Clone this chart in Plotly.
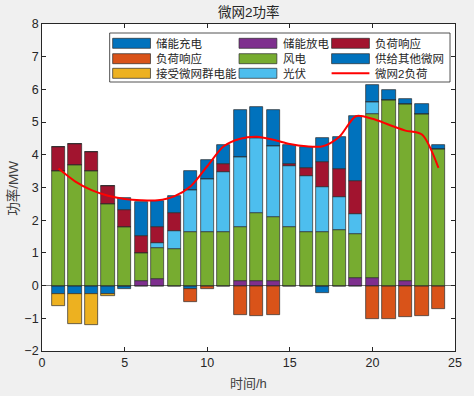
import plotly.graph_objects as go

hours = list(range(1, 25))

# series values (MW), in MATLAB series order
charge = [-0.25, -0.25, -0.25, -0.25, -0.11, 0, 0, 0, -0.11, 0, 0, 0,
          0, 0, 0, 0, -0.24, 0, 0, 0, 0, 0, 0, 0]            # 储能充电
dr_neg = [0, 0, 0, 0, 0, 0, 0, 0, -0.39, -0.10, 0, -0.90,
          -0.92, -0.90, 0, 0, 0, 0, 0, -1.02, -1.01, -0.96, -0.93, -0.71]  # 负荷响应 (orange)
recv = [-0.38, -0.91, -0.97, -0.08, 0, 0, 0, 0, 0, 0, 0, 0,
        0, 0, 0, 0, 0, 0, 0, 0, 0, 0, 0, 0]                  # 接受微网群电能
discharge = [0, 0, 0, 0, 0, 0.13, 0.20, 0, 0, 0, 0, 0.13,
             0.13, 0.13, 0, 0, 0, 0, 0.23, 0.23, 0, 0.14, 0, 0]  # 储能放电
wind = [3.50, 3.68, 3.50, 2.51, 1.78, 0.87, 0.96, 1.12, 1.63, 1.63, 1.63, 1.66,
        2.09, 1.96, 1.79, 1.63, 1.63, 1.69, 1.36, 5.03, 5.67, 5.41, 5.26, 4.17]  # 风电
pv = [0, 0, 0, 0, 0, 0, 0.13, 0.54, 1.28, 1.63, 1.84, 2.14,
      2.30, 2.17, 1.88, 1.72, 1.38, 1.01, 0.60, 0.35, 0, 0, 0, 0]  # 光伏
dr_pos = [0.74, 0.65, 0.60, 0.55, 0.52, 0.53, 0.50, 0.56, 0, 0, 0.26, 0,
          0, 0, 0.06, 0.25, 0.76, 0.88, 1.02, 0, 0, 0, 0, 0]  # 负荷响应 (dark red)
supply = [0, 0, 0, 0, 0.38, 1.04, 0.79, 0.53, 0.60, 0.58, 0.58, 1.45,
          0.93, 1.12, 0.58, 0.63, 0.73, 0.97, 1.99, 0.54, 0.30, 0.15, 0.28, 0.12]  # 供给其他微网
load = [3.58, 3.19, 2.92, 2.75, 2.65, 2.61, 2.61, 2.73, 3.04, 3.65, 4.26, 4.49,
        4.55, 4.46, 4.33, 4.26, 4.26, 4.55, 5.18, 5.10, 4.92, 4.74, 4.62, 3.60]  # 微网2负荷

names = ["储能充电", "负荷响应", "接受微网群电能", "储能放电", "风电", "光伏", "负荷响应", "供给其他微网"]
colors = ["#0072BD", "#D95319", "#EDB120", "#7E2F8E", "#77AC30", "#4DBEEE", "#A2142F", "#0072BD"]
series = [charge, dr_neg, recv, discharge, wind, pv, dr_pos, supply]
line_name = "微网2负荷"
line_color = "#FF0000"

x_ticks = [0, 5, 10, 15, 20, 25]
y_ticks = [-2, -1, 0, 1, 2, 3, 4, 5, 6, 7, 8]

W, H = 474, 396
L, R, T, B = 42, 17, 24, 45
PW, PH = W - L - R, H - T - B

def px(x):
    return (x - L) / PW

def py(y):
    return (H - B - y) / PH

CJK = "Liberation Sans, Noto Sans CJK SC, sans-serif"
TXT = "#262626"

fig = go.Figure()
for nm, col, vals in zip(names, colors, series):
    fig.add_trace(go.Bar(x=hours, y=vals, name=nm, width=0.8,
                         marker=dict(color=col, line=dict(color="#2b2b2b", width=0.7)),
                         showlegend=False))
fig.add_trace(go.Scatter(x=hours, y=load, name=line_name, mode="lines",
                         line=dict(color=line_color, width=2, shape="spline", smoothing=0.8),
                         showlegend=False))

# legend drawn as a box of swatches + text
shapes = []
annotations = []
shapes.append(dict(type="rect", xref="paper", yref="paper", x0=px(110), x1=px(452),
                   y0=py(82), y1=py(33), line=dict(color=TXT, width=0.8),
                   fillcolor="white", layer="above"))
col_x = [113, 240, 333]
row_y = [43.3, 58.7, 73.3]
entries = [(names[i], colors[i], "bar") for i in range(8)] + [(line_name, line_color, "line")]
for i, (nm, col, kind) in enumerate(entries):
    c, r = i // 3, i % 3
    x0 = col_x[c]
    yc = row_y[r]
    if kind == "bar":
        shapes.append(dict(type="rect", xref="paper", yref="paper", x0=px(x0), x1=px(x0 + 38),
                           y0=py(yc + 5), y1=py(yc - 5), fillcolor=col,
                           line=dict(color="#2b2b2b", width=0.7), layer="above"))
    else:
        shapes.append(dict(type="line", xref="paper", yref="paper", x0=px(x0), x1=px(x0 + 38),
                           y0=py(yc), y1=py(yc), line=dict(color=col, width=2), layer="above"))
    annotations.append(dict(text=nm, xref="paper", yref="paper", x=px(x0 + 42), y=py(yc),
                            xanchor="left", yanchor="middle", showarrow=False,
                            font=dict(family=CJK, size=11.5, color=TXT)))

annotations.append(dict(text="功率/MW", xref="paper", yref="paper", x=px(12.5), y=py(188),
                        textangle=-90, xanchor="center", yanchor="middle", showarrow=False,
                        font=dict(family=CJK, size=13.5, color="#404040")))
annotations.append(dict(text="时间/h", xref="paper", yref="paper", x=px(249.5), y=py(383),
                        xanchor="center", yanchor="middle", showarrow=False,
                        font=dict(family=CJK, size=13, color="#404040")))
annotations.append(dict(text="微网2功率", xref="paper", yref="paper", x=px(249.5), y=py(11.5),
                        xanchor="center", yanchor="middle", showarrow=False,
                        font=dict(family=CJK, size=13.5, color=TXT)))

axis_common = dict(showline=True, linecolor=TXT, linewidth=0.8, mirror="ticks",
                   ticks="inside", ticklen=4, tickcolor=TXT, showgrid=False,
                   tickfont=dict(family="Liberation Sans, sans-serif", size=12.5, color=TXT))

fig.update_layout(
    width=W, height=H, margin=dict(l=L, r=R, t=T, b=B),
    paper_bgcolor="#f0f0f0", plot_bgcolor="white",
    barmode="relative", bargap=0, showlegend=False,
    shapes=shapes, annotations=annotations,
    xaxis=dict(range=[0, 25], tickvals=x_ticks, zeroline=False, **axis_common),
    yaxis=dict(range=[-2, 8], tickvals=y_ticks, zeroline=True, zerolinecolor="#7a7a7a",
               zerolinewidth=1, **axis_common),
)

fig.write_html("out.html", config={"displayModeBar": False},
               post_script="document.body.style.margin='0';"
                           "document.body.style.background='#f0f0f0';"
                           "document.body.style.overflow='hidden';")
